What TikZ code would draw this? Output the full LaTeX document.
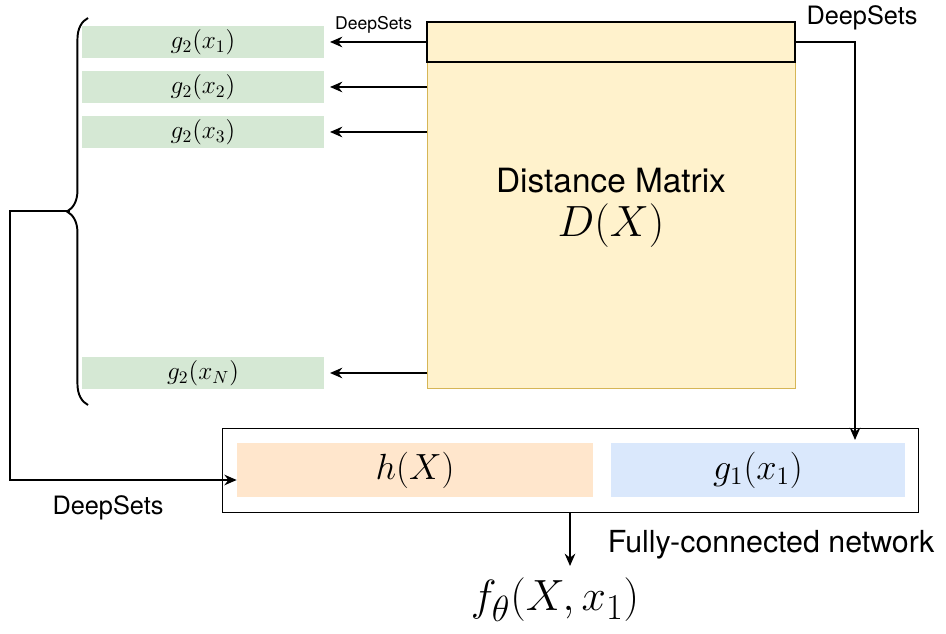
\documentclass[tikz,border=0pt]{standalone}
\usepackage{fontspec}
\setsansfont{TeX Gyre Heros}
\usepackage{amsmath}
\usetikzlibrary{decorations.pathreplacing,arrows.meta}
\definecolor{gbox}{HTML}{D5E8D4}
\definecolor{ybox}{HTML}{FFF2CC}
\definecolor{yline}{HTML}{D6B656}
\definecolor{pbox}{HTML}{FFE6CC}
\definecolor{bbox}{HTML}{DAE8FC}
\begin{document}
\begin{tikzpicture}[x=0.02cm,y=-0.02cm,
  gnode/.style={fill=gbox, minimum width=4.84cm, minimum height=0.64cm, inner sep=0, font=\Large},
  arr/.style={-{Stealth[length=7pt,width=6pt]}, line width=1.1pt},
  lbl/.style={font=\sffamily\Large}]
\useasboundingbox (0,0) rectangle (946,634);
% distance matrix
\node[fill=ybox, draw=yline, minimum width=7.36cm, minimum height=7.32cm, inner sep=0] (D) at (611,205) {};
\node[align=center, font=\sffamily\fontsize{19}{23}\selectfont] (Dl) at (611,208) {Distance Matrix\\[2pt] \Huge $D(X)$};
\node[draw=black, line width=1.3pt, minimum width=7.36cm, minimum height=0.8cm, inner sep=0] (row) at (611,42) {};
% g2 boxes
\node[gnode] (g1) at (203,42) {$g_2(x_1)$};
\node[gnode] (g2) at (203,87) {$g_2(x_2)$};
\node[gnode] (g3) at (203,132) {$g_2(x_3)$};
\node[gnode] (gN) at (203,373) {$g_2(x_N)$};
\coordinate (a1) at (427,42);
\coordinate (a2) at (427,87);
\coordinate (a3) at (427,132);
\coordinate (aN) at (427,373);
\draw[arr] (a1) -- (g1.east -| 330,0) node[pos=0.55, above=1pt, font=\sffamily\normalsize] {DeepSets};
\draw[arr] (a2) -- (g2.east -| 330,0);
\draw[arr] (a3) -- (g3.east -| 330,0);
\draw[arr] (aN) -- (gN.east -| 330,0);
% bottom
\node[draw=black, minimum width=13.92cm, minimum height=1.68cm, inner sep=0] (F) at (570,470) {};
\node[fill=pbox, minimum width=7.12cm, minimum height=1.1cm, inner sep=0, font=\huge] (h) at (415,470) {$h(X)$};
\node[fill=bbox, minimum width=5.88cm, minimum height=1.1cm, inner sep=0, font=\huge] (g1x) at (758,470) {$g_1(x_1)$};
% brace
\draw[line width=1.1pt, decorate, decoration={brace, amplitude=12pt}] (88,405) -- (88,18);
\coordinate (btip) at (70,211);
\draw[arr] (btip) -- (10,211) -- (10,480) -- (h.west |- 0,480);
\node[lbl] (ds3) at (108,508) {DeepSets};
% right arrow
\draw[arr] (row.east) -- (855,42) -- (855,440);
\node[lbl] (ds2) at (862,18) {DeepSets};
% output
\node[font=\Huge] (f) at (555,600) {$f_\theta(X,x_1)$};
\draw[arr] (570,512) -- (570,566);
\node[font=\sffamily\LARGE] (fc) at (771,545) {Fully-connected network};
\end{tikzpicture}
\end{document}
